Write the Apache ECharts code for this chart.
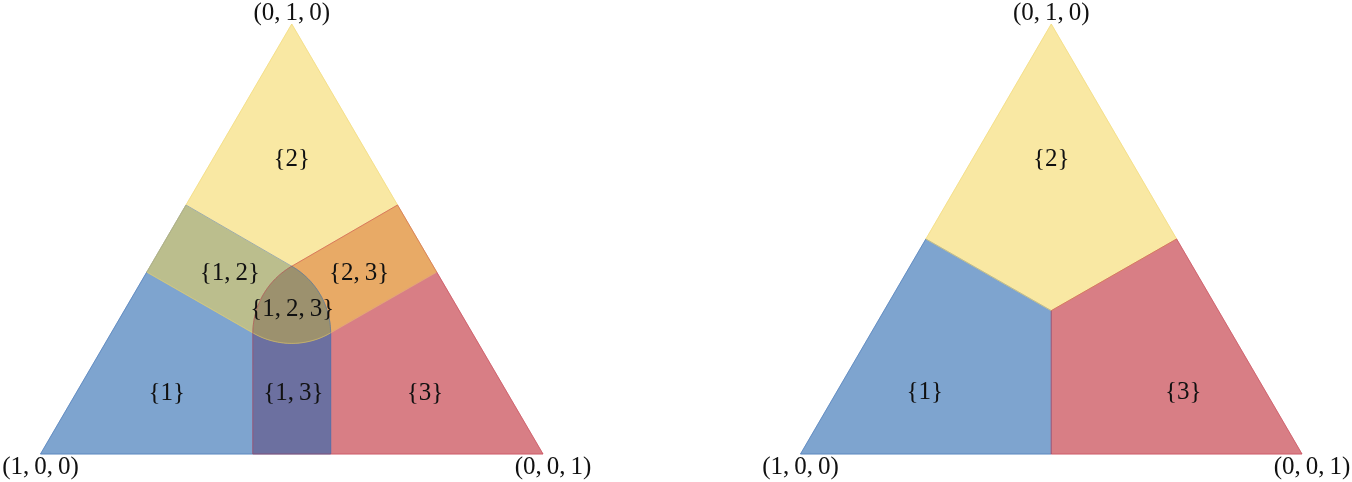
<!DOCTYPE html>
<html><head><meta charset="utf-8">
<script src="https://cdn.jsdelivr.net/npm/echarts@6/dist/echarts.min.js"></script>
<style>html,body{margin:0;padding:0;background:#fff}#chart{width:1352px;height:482px}</style>
</head><body><div id="chart"></div>
<script>
// ---------- data (barycentric coordinates p1, p2, p3) ----------
const vertexNames = ['A', 'B', 'C'];
const vertexValues = [[1, 0, 0], [0, 1, 0], [0, 0, 1]];
const vertexLabels = ['(1,\u20090,\u20090)', '(0,\u20091,\u20090)', '(0,\u20090,\u20091)'];

// left panel: key points
const leftPointNames = ['A', 'B', 'C', 'E12a', 'E12b', 'E23a', 'E23b', 'F13a', 'F13b', 'T', 'L', 'R'];
const leftPointValues = [
  [1, 0, 0], [0, 1, 0], [0, 0, 1],
  [0.421, 0.579, 0], [0.577, 0.423, 0],
  [0, 0.579, 0.421], [0, 0.423, 0.577],
  [0.5775, 0, 0.4225], [0.4225, 0, 0.5775],
  [0.2817, 0.4366, 0.2817], [0.4366, 0.2817, 0.2817], [0.2817, 0.2817, 0.4366]
];
// left panel: regions (step = [point] line-to, or [point, centre] arc-to)
const leftRegionLabels = ['{1}', '{1,\u20092}', '{2}', '{2,\u20093}', '{3}', '{1,\u20093}', '{1,\u20092,\u20093}'];
const leftRegionPaths = [
  [['A'], ['E12b'], ['L'], ['F13a']],
  [['E12b'], ['E12a'], ['T'], ['L', 'R']],
  [['B'], ['E12a'], ['T'], ['E23a']],
  [['E23a'], ['T'], ['R', 'L'], ['E23b']],
  [['C'], ['E23b'], ['R'], ['F13b']],
  [['L'], ['R', 'T'], ['F13b'], ['F13a']],
  [['T'], ['R', 'L'], ['L', 'T'], ['T', 'R']]
];
const leftLabelValues = [
  [0.678, 0.142, 0.180], [0.413, 0.420, 0.167], [0.158, 0.684, 0.158], [0.156, 0.420, 0.424],
  [0.164, 0.142, 0.694], [0.426, 0.142, 0.432], [0.331, 0.336, 0.333]
];
const leftOutlinePaths = [
  [['A'], ['E12a'], ['T'], ['R', 'L'], ['F13b']],
  [['B'], ['E12b'], ['L'], ['R', 'T'], ['E23b']],
  [['C'], ['E23a'], ['T'], ['L', 'R'], ['F13a']]
];

// right panel
const rightPointNames = ['A', 'B', 'C', 'M12', 'M23', 'M13', 'G'];
const rightPointValues = [[1, 0, 0], [0, 1, 0], [0, 0, 1], [0.5, 0.5, 0], [0, 0.5, 0.5], [0.5, 0, 0.5], [0.3333, 0.3333, 0.3334]];
const rightRegionLabels = ['{1}', '{2}', '{3}'];
const rightRegionPaths = [
  [['A'], ['M12'], ['G'], ['M13']],
  [['B'], ['M12'], ['G'], ['M23']],
  [['C'], ['M23'], ['G'], ['M13']]
];
const rightLabelValues = [[0.680, 0.144, 0.176], [0.158, 0.684, 0.158], [0.165, 0.144, 0.691]];

// ---------- styles ----------
const leftFillColors = ['#7EA4CF', '#BBBE8D', '#F9E8A3', '#E8AA66', '#D87E85', '#6C70A0', '#9C916E'];
const rightFillColors = ['#7EA4CF', '#F9E8A3', '#D87E85'];
const outlineColors = ['rgba(55,105,175,0.45)', 'rgba(240,210,100,0.45)', 'rgba(195,55,70,0.45)'];
const vertexLabelOffsets = [[0, 13], [0, -11], [10, 13]];
const FONT = '"Liberation Serif", "DejaVu Serif", serif';
const FONT_SIZE = 25;

function toXY(p) { return [p[2] + p[1] / 2, p[1]]; }

function buildPoints(path, names, values, api) {
  const lookup = {};
  names.forEach((n, i) => { lookup[n] = api.coord(toXY(values[i])); });
  const pts = [];
  path.forEach(step => {
    const E = lookup[step[0]];
    if (step.length === 1 || pts.length === 0) { pts.push(E); return; }
    const S = pts[pts.length - 1];
    const O = lookup[step[1]];
    const r0 = Math.hypot(S[0] - O[0], S[1] - O[1]);
    const r1 = Math.hypot(E[0] - O[0], E[1] - O[1]);
    const a0 = Math.atan2(S[1] - O[1], S[0] - O[0]);
    let d = Math.atan2(E[1] - O[1], E[0] - O[0]) - a0;
    while (d > Math.PI) d -= 2 * Math.PI;
    while (d < -Math.PI) d += 2 * Math.PI;
    const N = 40;
    for (let k = 1; k < N; k++) {
      const t = k / N, r = r0 + (r1 - r0) * t, a = a0 + d * t;
      pts.push([O[0] + r * Math.cos(a), O[1] + r * Math.sin(a)]);
    }
    pts.push(E);
  });
  return pts;
}

function fillSeries(idx, paths, names, values, colors) {
  return {
    type: 'custom', xAxisIndex: idx, yAxisIndex: idx, z: 1, silent: true,
    data: paths.map((p, i) => [i]),
    encode: { x: -1, y: -1 },
    renderItem: function (params, api) {
      const i = params.dataIndex;
      return {
        type: 'polygon',
        shape: { points: buildPoints(paths[i], names, values, api) },
        style: { fill: colors[i], stroke: colors[i], lineWidth: 0.8 }
      };
    }
  };
}
function outlineSeries(idx, paths, names, values) {
  return {
    type: 'custom', xAxisIndex: idx, yAxisIndex: idx, z: 2, silent: true,
    data: paths.map((p, i) => [i]),
    encode: { x: -1, y: -1 },
    renderItem: function (params, api) {
      const i = params.dataIndex;
      return {
        type: 'polygon',
        shape: { points: buildPoints(paths[i], names, values, api) },
        style: { fill: 'none', stroke: outlineColors[i], lineWidth: 1 }
      };
    }
  };
}
function textSeries(idx, labels, values, offsets) {
  return {
    type: 'custom', xAxisIndex: idx, yAxisIndex: idx, z: 5, silent: true,
    data: values.map(v => toXY(v)),
    encode: { x: 0, y: 1 },
    renderItem: function (params, api) {
      const i = params.dataIndex;
      const c = api.coord([api.value(0), api.value(1)]);
      const off = offsets ? offsets[i] : [0, 0];
      return {
        type: 'text',
        x: c[0] + off[0], y: c[1] + off[1],
        style: {
          text: labels[i], fill: '#111', font: FONT_SIZE + 'px ' + FONT,
          align: 'center', verticalAlign: 'middle'
        }
      };
    }
  };
}

const chart = echarts.init(document.getElementById('chart'), null, { renderer: 'canvas' });
chart.setOption({
  animation: false,
  backgroundColor: '#ffffff',
  grid: [
    { left: 40.5, top: 24, width: 502.5, height: 430 },
    { left: 800.5, top: 24, width: 501.5, height: 430 }
  ],
  xAxis: [
    { type: 'value', gridIndex: 0, min: 0, max: 1, show: false },
    { type: 'value', gridIndex: 1, min: 0, max: 1, show: false }
  ],
  yAxis: [
    { type: 'value', gridIndex: 0, min: 0, max: 1, show: false },
    { type: 'value', gridIndex: 1, min: 0, max: 1, show: false }
  ],
  series: [
    fillSeries(0, leftRegionPaths, leftPointNames, leftPointValues, leftFillColors),
    outlineSeries(0, leftOutlinePaths, leftPointNames, leftPointValues),
    textSeries(0, leftRegionLabels, leftLabelValues),
    textSeries(0, vertexLabels, vertexValues, vertexLabelOffsets),
    fillSeries(1, rightRegionPaths, rightPointNames, rightPointValues, rightFillColors),
    outlineSeries(1, rightRegionPaths, rightPointNames, rightPointValues),
    textSeries(1, rightRegionLabels, rightLabelValues),
    textSeries(1, vertexLabels, vertexValues, vertexLabelOffsets)
  ]
});
</script></body></html>
